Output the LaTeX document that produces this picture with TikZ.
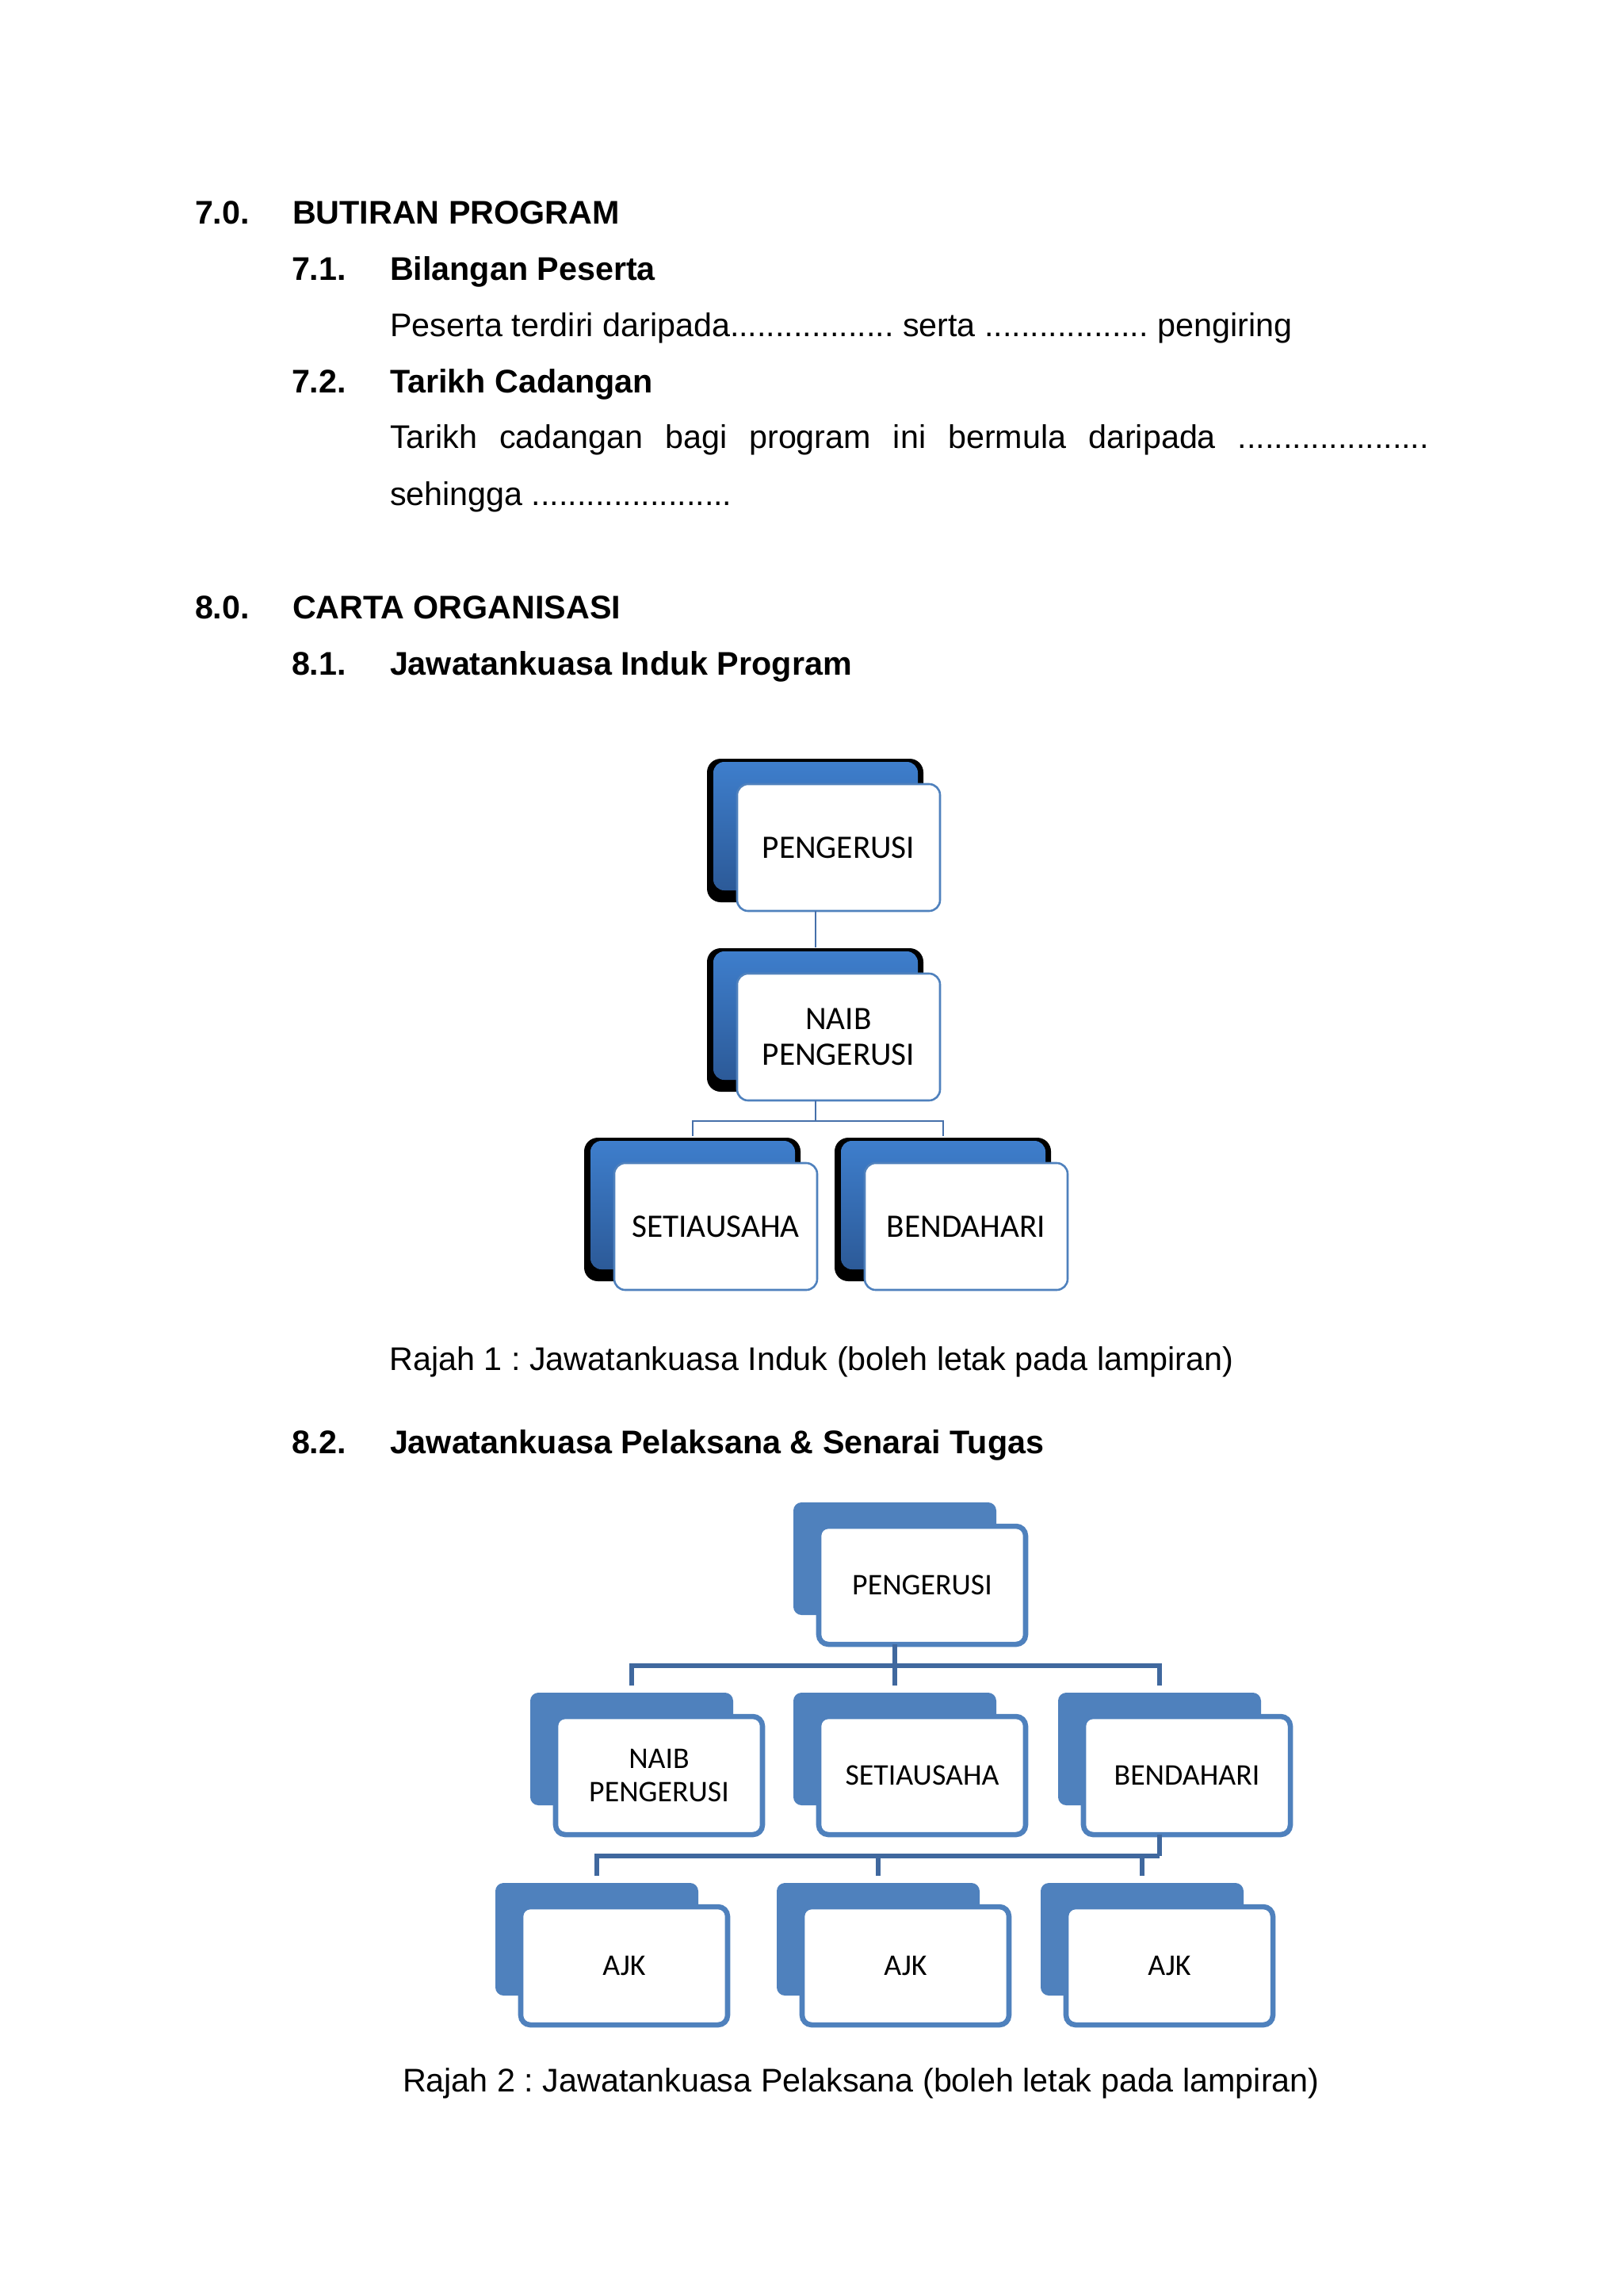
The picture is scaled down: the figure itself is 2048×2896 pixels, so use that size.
\documentclass[tikz,border=0pt]{standalone}
\usepackage{fontspec}
\setmainfont{Liberation Sans}
\newfontfamily\boxfont{Carlito}
\usetikzlibrary{backgrounds}
\newdimen\pu \pu=0.29066pt
\definecolor{btop}{RGB}{62,126,204}
\definecolor{bbot}{RGB}{44,90,152}
\definecolor{acc}{RGB}{79,129,189}
\definecolor{conA}{RGB}{70,112,170}
\definecolor{conB}{RGB}{64,104,158}
\frenchspacing
\tikzset{
  body/.style={inner sep=0pt, outer sep=0pt, anchor=base west, font=\fontsize{12}{14}\selectfont},
  head/.style={body, font=\fontsize{12}{14}\selectfont\bfseries},
  backA/.style={rectangle, rounded corners=4pt, inner sep=0pt, outer sep=0pt,
    minimum width=258*\pu, minimum height=162*\pu, top color=btop, bottom color=bbot, draw=none},
  frontA/.style={rectangle, rounded corners=4pt, inner sep=0pt, outer sep=0pt,
    minimum width=256*\pu, minimum height=160*\pu, fill=white, draw=acc, line width=0.75pt,
    font=\boxfont\fontsize{12}{13.3}\selectfont, align=center},
  backB/.style={rectangle, rounded corners=3pt, inner sep=0pt, outer sep=0pt,
    minimum width=256*\pu, minimum height=142*\pu, fill=acc, draw=none},
  frontB/.style={rectangle, rounded corners=3.5pt, inner sep=0pt, outer sep=0pt,
    minimum width=261*\pu, minimum height=149*\pu, fill=white, draw=acc, line width=1.9pt,
    font=\boxfont\fontsize{11}{12.3}\selectfont, align=center},
  connA/.style={draw=conA, line width=0.6pt},
  connB/.style={draw=conB, line width=1.9pt},
}
\newcommand\blackshade[1]{%
  \begin{pgfonlayer}{background}
    \fill[black, rounded corners=5pt] ([xshift=-8*\pu,yshift=4*\pu]#1.north west) rectangle ([xshift=7*\pu,yshift=-15*\pu]#1.south east);
  \end{pgfonlayer}}
\begin{document}
\begin{tikzpicture}[x=0.29066pt, y=-0.29066pt]
\useasboundingbox (0,0) rectangle (2048,2896);
\begin{pgfonlayer}{background}
\fill[white] (0,0) rectangle (2048,2896);
\end{pgfonlayer}

% ---- text ----
\node[head] (h70n) at (246,282) {7.0.};
\node[head] (h70) at (369,282) {BUTIRAN PROGRAM};
\node[head] (h71n) at (368,353) {7.1.};
\node[head] (h71) at (492,353) {Bilangan Peserta};
\node[body] (t1) at (492,424) {Peserta terdiri daripada.................. serta .................. pengiring};
\node[head] (h72n) at (368,495) {7.2.};
\node[head] (h72) at (492,495) {Tarikh Cadangan};
\node[body] (t2) at (492,565) {\makebox[1311\pu][s]{Tarikh cadangan bagi program ini bermula daripada .....................}};
\node[body] (t3) at (492,637) {sehingga ......................};
\node[head] (h80n) at (246,780) {8.0.};
\node[head] (h80) at (369,780) {CARTA ORGANISASI};
\node[head] (h81n) at (368,851) {8.1.};
\node[head] (h81) at (492,851) {Jawatankuasa Induk Program};
\node[body, anchor=base] (cap1) at (1024,1728) {Rajah 1 : Jawatankuasa Induk (boleh letak pada lampiran)};
\node[head] (h82n) at (368,1833) {8.2.};
\node[head] (h82) at (492,1833) {Jawatankuasa Pelaksana \& Senarai Tugas};
\node[body] (cap2) at (508,2638) {Rajah 2 : Jawatankuasa Pelaksana (boleh letak pada lampiran)};

% ---- chart 1 ----
\node[backA] (P1b) at (1029,1042) {};
\blackshade{P1b}
\node[frontA] (P1f) at (1058,1069) {PENGERUSI};
\node[backA] (N1b) at (1029,1281) {};
\blackshade{N1b}
\node[frontA] (N1f) at (1058,1308) {NAIB\\PENGERUSI};
\node[backA] (S1b) at (874,1520) {};
\blackshade{S1b}
\node[frontA] (S1f) at (903,1547) {SETIAUSAHA};
\node[backA] (B1b) at (1190,1520) {};
\blackshade{B1b}
\node[frontA] (B1f) at (1219,1547) {BENDAHARI};

\coordinate (J3) at (1029,1414);
\draw[connA] (P1b.center |- P1f.south) -- ([yshift=5*\pu]N1b.north);
\draw[connA] (N1b.center |- N1f.south) -- (J3);
\draw[connA] ([yshift=6*\pu]S1b.north) |- (J3) -| ([yshift=6*\pu]B1b.north);

% ---- chart 2 ----
\node[backB] (P2b) at (1129,1966) {};
\node[frontB] (P2f) at (1163.5,1999.5) {PENGERUSI};
\node[backB] (N2b) at (797,2206) {};
\node[frontB] (N2f) at (831.5,2239.5) {NAIB\\PENGERUSI};
\node[backB] (S2b) at (1129,2206) {};
\node[frontB] (S2f) at (1163.5,2239.5) {SETIAUSAHA};
\node[backB] (B2b) at (1463,2206) {};
\node[frontB] (B2f) at (1497.5,2239.5) {BENDAHARI};
\node[backB] (A1b) at (753,2446) {};
\node[frontB] (A1f) at (787.5,2479.5) {AJK};
\node[backB] (A2b) at (1108,2446) {};
\node[frontB] (A2f) at (1142.5,2479.5) {AJK};
\node[backB] (A3b) at (1441,2446) {};
\node[frontB] (A3f) at (1475.5,2479.5) {AJK};

\coordinate (J1) at (1129,2101);
\coordinate (J2) at (1463,2341);
\draw[connB] (P2b.center |- P2f.south) -- (J1);
\draw[connB] ([yshift=9*\pu]N2b.north) |- (J1) -| ([yshift=9*\pu]B2b.north);
\draw[connB] (J1) -- ([yshift=9*\pu]S2b.north);
\draw[connB] (B2b.center |- B2f.south) -- (J2);
\draw[connB] ([yshift=9*\pu]A1b.north) |- (J2);
\draw[connB] (A2b.north |- J2) -- ([yshift=9*\pu]A2b.north);
\draw[connB] (A3b.north |- J2) -- ([yshift=9*\pu]A3b.north);
\end{tikzpicture}
\end{document}
